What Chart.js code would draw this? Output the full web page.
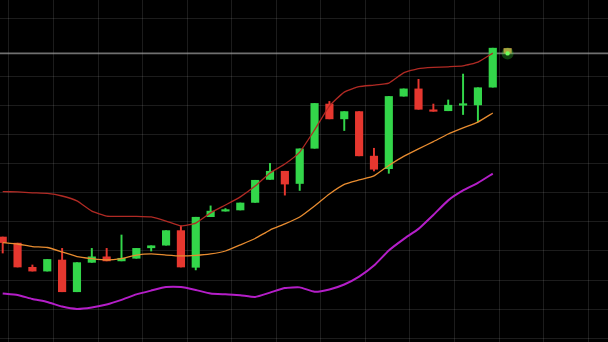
<!DOCTYPE html>
<html>
<head>
<meta charset="utf-8">
<script src="https://cdn.jsdelivr.net/npm/chart.js@4.4.1/dist/chart.umd.min.js"></script>
<style>
  html, body { margin: 0; padding: 0; background: #000; }
  #wrap { width: 608px; height: 342px; position: relative; background: #000; }
</style>
</head>
<body>
<div id="wrap"><canvas id="c"></canvas></div>
<script>
// ---- data ----
const candleIndex = [0,1,2,3,4,5,6,7,8,9,10,11,12,13,14,15,16,17,18,19,20,21,22,23,24,25,26,27,28,29,30,31,32,33,34];
const openPrices  = [134.8,132.7,124.4,123.1,126.9,116.0,126.1,128.0,126.6,127.5,131.1,132.0,137.0,124.4,141.8,143.7,144.1,146.7,154.6,157.4,153.2,165.3,180.5,175.4,177.9,162.6,158.3,183.2,185.7,178.4,178.2,180.1,180.2,186.3,198.0];
const closePrices = [132.9,124.5,123.1,127.1,116.0,126.0,128.0,126.6,127.5,130.9,131.8,137.0,124.5,141.6,143.7,144.1,146.5,154.3,157.4,153.0,165.1,180.7,175.4,177.9,162.7,158.1,183.1,185.7,178.7,178.0,180.1,180.4,186.1,199.7,199.6];
const highPrices  = [134.8,132.7,125.2,127.1,130.9,126.0,130.9,130.9,135.5,130.9,131.8,137.0,138.6,141.6,145.5,144.6,146.5,154.3,160.1,157.4,165.1,180.7,181.4,177.9,177.9,165.3,183.1,185.7,189.0,180.5,181.9,190.8,186.1,199.7,199.6];
const lowPrices   = [129.3,124.5,123.1,123.1,116.0,116.0,126.1,126.6,126.6,127.5,130.0,132.0,124.5,123.5,141.8,143.7,144.1,146.7,154.6,149.2,150.8,165.3,175.4,171.4,162.7,157.5,156.7,183.2,178.7,178.0,178.2,176.9,174.4,186.3,198.0];
const liveCandle = 34;

const upperBand  = [150.4,150.3,150.0,149.8,148.9,147.2,143.7,142.0,141.9,141.9,141.7,140.3,138.6,139.6,143.1,145.8,148.6,152.3,156.8,159.9,164.0,171.6,179.8,184.6,186.5,187.0,187.7,191.2,192.7,193.1,193.3,193.6,194.9,198.0];
const middleBand = [132.9,132.4,131.5,131.2,129.7,128.1,127.4,126.9,127.4,128.6,129.0,128.6,128.3,128.5,129.0,130.0,132.1,134.3,137.2,139.3,141.7,145.5,149.6,152.9,154.4,155.8,159.4,162.5,165.1,167.6,170.2,172.3,174.3,177.4];
const lowerBand  = [115.4,114.9,113.5,112.5,110.9,110.1,110.6,111.6,113.2,115.1,116.4,117.6,117.6,116.6,115.4,115.1,114.8,114.2,115.7,117.3,117.5,116.0,116.8,118.5,121.2,125.0,130.2,134.1,137.6,142.4,147.4,150.8,153.4,156.6];

const currentPrice = 197.9;
const gridXTicks = [0.424,3.424,6.424,9.424,12.424,15.424,18.424,21.424,24.424,27.424,30.424,33.424,36.424,39.424];
const gridYTicks = [100,110,120,130,140,150,160,170,180,190,210];

// ---- styles ----
const GREEN = '#33d64a';
const RED = '#e6372f';
const LIVE = '#c88840';
const candleColors = candleIndex.map(i =>
  i === liveCandle ? LIVE : (closePrices[i] >= openPrices[i] ? GREEN : RED));

const gridCommon = {
  color: 'rgba(255,255,255,0.11)',
  lineWidth: 1,
  drawTicks: false,
  offset: false
};

new Chart(document.getElementById('c'), {
  type: 'bar',
  data: {
    datasets: [
      {
        label: 'current',
        type: 'line',
        data: [{x: -1, y: currentPrice}, {x: 42, y: currentPrice}],
        borderColor: 'rgba(160,160,160,0.7)',
        borderWidth: 1.6,
        pointRadius: 0,
        order: 6
      },
      {
        label: 'wicks',
        data: candleIndex.map(i => ({x: i, y: [lowPrices[i], highPrices[i]]})),
        backgroundColor: candleColors,
        barThickness: 1.3,
        grouped: false,
        order: 5
      },
      {
        label: 'bodies',
        data: candleIndex.map(i => ({x: i, y: [openPrices[i], closePrices[i]]})),
        backgroundColor: candleColors,
        barThickness: 7.5,
        minBarLength: 1.5,
        grouped: false,
        order: 4
      },
      {
        label: 'upper',
        type: 'line',
        data: upperBand.map((v, i) => ({x: candleIndex[i], y: v})),
        borderColor: '#b02a24',
        borderWidth: 1.3,
        pointRadius: 0,
        tension: 0.15,
        order: 3
      },
      {
        label: 'middle',
        type: 'line',
        data: middleBand.map((v, i) => ({x: candleIndex[i], y: v})),
        borderColor: '#e88c30',
        borderWidth: 1.3,
        pointRadius: 0,
        tension: 0.15,
        order: 2
      },
      {
        label: 'lower',
        type: 'line',
        data: lowerBand.map((v, i) => ({x: candleIndex[i], y: v})),
        borderColor: '#b41ec8',
        borderWidth: 2,
        pointRadius: 0,
        tension: 0.15,
        order: 1
      },
      {
        label: 'glow',
        type: 'scatter',
        data: [{x: liveCandle, y: currentPrice}],
        pointRadius: 6,
        pointBackgroundColor: 'rgba(60,255,60,0.25)',
        pointBorderWidth: 0,
        order: 0
      },
      {
        label: 'dot',
        type: 'scatter',
        data: [{x: liveCandle, y: currentPrice}],
        pointRadius: 2.2,
        pointBackgroundColor: '#6dff5a',
        pointBorderWidth: 0,
        order: -1
      }
    ]
  },
  options: {
    responsive: true,
    maintainAspectRatio: false,
    animation: false,
    layout: { padding: 0, autoPadding: false },
    plugins: { legend: { display: false }, tooltip: { enabled: false } },
    scales: {
      x: {
        type: 'linear',
        min: -0.182,
        max: 40.76,
        offset: false,
        grid: gridCommon,
        border: { display: false },
        ticks: { display: false },
        afterBuildTicks: s => { s.ticks = gridXTicks.map(v => ({value: v})); }
      },
      y: {
        type: 'linear',
        min: 98.73,
        max: 216.25,
        beginAtZero: false,
        grid: gridCommon,
        border: { display: false },
        ticks: { display: false },
        afterBuildTicks: s => { s.ticks = gridYTicks.map(v => ({value: v})); }
      }
    }
  }
});
</script>
</body>
</html>
